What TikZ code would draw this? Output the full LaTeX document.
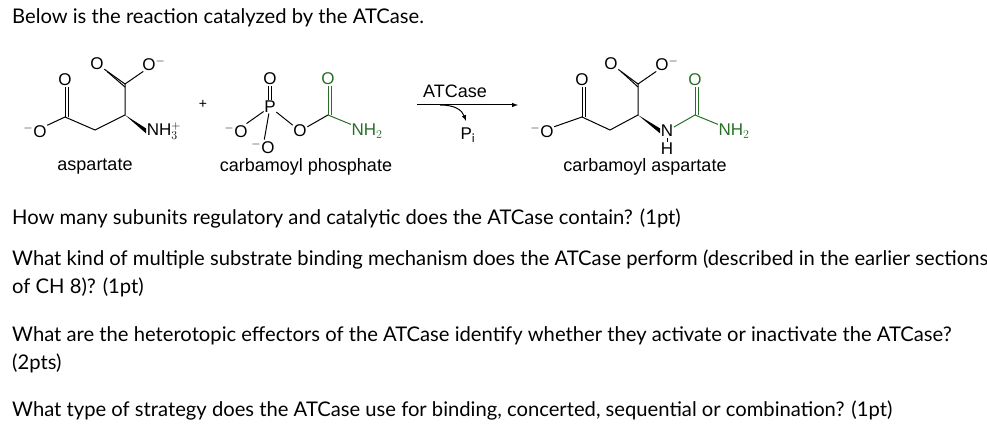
\documentclass[tikz,border=0pt]{standalone}
\usepackage{fontspec}
\setmainfont{Lato}
\newfontfamily\chemf{Liberation Sans}
\definecolor{cgreen}{RGB}{40,110,40}
\begin{document}
\begin{tikzpicture}[x=1pt,y=-1pt,
  txt/.style={anchor=base west,inner sep=0,font=\fontsize{20.2}{24}\selectfont},
  atm/.style={inner sep=0.5pt,font=\chemf\fontsize{17}{20}\selectfont},
  lab/.style={inner sep=0,font=\chemf\fontsize{18}{20}\selectfont},
  bd/.style={line width=1pt},
  gb/.style={bd,cgreen}]
\useasboundingbox (0,0) rectangle (987,441);
\node[txt] (t0) at (12,24) {Below is the reaction catalyzed by the ATCase.};
\node[txt] (q1) at (12,224) {How many subunits regulatory and catalytic does the ATCase contain? (1pt)};
\node[txt] (q2) at (12,265) {What kind of multiple substrate binding mechanism does the ATCase perform (described in the earlier sections};
\node[txt] (q2b) at (12,293) {of CH 8)? (1pt)};
\node[txt] (q3) at (12,341) {What are the heterotopic effectors of the ATCase identify whether they activate or inactivate the ATCase?};
\node[txt] (q3b) at (12,369) {(2pts)};
\node[txt] (q4) at (12,416) {What type of strategy does the ATCase use for binding, concerted, sequential or combination? (1pt)};
% aspartate
\node[atm] (aO1) at (35,131) {$^{-}$O};
\coordinate (aC1) at (65,117);
\node[atm] (aO2) at (65,80) {O};
\coordinate (aC2) at (95,130);
\coordinate (aCa) at (125,115);
\coordinate (aC3) at (125,84);
\node[atm] (aO3) at (97,64) {O};
\node[atm] (aO4) at (154,64) {O$^{-}$};
\node[atm] (aN) at (164,131) {NH$_3^{+}$};
\draw[bd] (aO1) -- (aC1) -- (aC2) -- (aCa) -- (aC3) -- (aO4);
\draw[bd] (aC1) -- (aO2); \draw[bd] ([xshift=3pt]aC1) -- ([xshift=3pt]aO2.south);
\draw[bd] (aC3) -- (aO3); \draw[bd] ([yshift=-3pt]aC3) -- ([xshift=3pt,yshift=-1pt]aO3.south east);
\fill (aCa) -- ([yshift=-2.5pt]aN.west) -- ([yshift=2.5pt]aN.west) -- cycle;
\node[lab] (la) at (95,167) {aspartate};
\node[inner sep=0,font=\chemf\fontsize{14}{16}\selectfont] (plus) at (203,104) {+};
% carbamoyl phosphate
\node[atm] (P) at (270,107) {P};
\node[atm] (pO1) at (270,79) {O};
\node[atm] (pO2) at (236,131) {$^{-}$O};
\node[atm] (pO3) at (263,147) {$^{-}$O};
\node[atm] (pO4) at (300,131) {O};
\coordinate (pC) at (328,115);
\node[atm,cgreen] (pO5) at (328,79) {O};
\node[atm,cgreen] (pN) at (367,131) {NH$_2$};
\draw[bd] ([xshift=-1.5pt]P.north) -- ([xshift=-1.5pt]pO1.south);
\draw[bd] ([xshift=1.5pt]P.north) -- ([xshift=1.5pt]pO1.south);
\draw[bd] (pO2) -- (P) -- (pO4) -- (pC);
\draw[bd] (P) -- (pO3);
\draw[gb] (pC) -- (pN);
\draw[gb] (pC) -- (pO5); \draw[gb] ([xshift=3pt]pC) -- ([xshift=3pt]pO5.south);
\node[lab] (lc) at (306,167) {carbamoyl phosphate};
% arrow
\coordinate (r1) at (417,105);
\coordinate (r2) at (518,105);
\draw[bd,-latex] (r1) -- (r2);
\node[lab] (atc) at (455,91) {ATCase};
\node[atm] (Pi) at (468,135) {P$_\mathrm{i}$};
\draw[bd,-latex] (440,105) .. controls (455,105) and (462,110) .. (466,121);
% carbamoyl aspartate
\node[atm] (bO1) at (542,131) {$^{-}$O};
\coordinate (bC1) at (582,117);
\node[atm] (bO2) at (582,80) {O};
\coordinate (bC2) at (610,130);
\coordinate (bCa) at (638,115);
\coordinate (bC3) at (638,84);
\node[atm] (bO3) at (611,64) {O};
\node[atm] (bO4) at (667,64) {O$^{-}$};
\node[atm] (bN) at (667,131) {N};
\node[atm] (bH) at (667,149) {H};
\coordinate (bC) at (695,115);
\node[atm,cgreen] (bO5) at (695,80) {O};
\node[atm,cgreen] (bN2) at (734,131) {NH$_2$};
\draw[bd] (bO1) -- (bC1) -- (bC2) -- (bCa) -- (bC3) -- (bO4);
\draw[bd] (bC1) -- (bO2); \draw[bd] ([xshift=3pt]bC1) -- ([xshift=3pt]bO2.south);
\draw[bd] (bC3) -- (bO3); \draw[bd] ([yshift=-3pt]bC3) -- ([xshift=3pt,yshift=-1pt]bO3.south east);
\fill (bCa) -- ([yshift=-2.5pt]bN.west) -- ([yshift=2.5pt]bN.west) -- cycle;
\draw[bd] (bN) -- (bH);
\draw[gb] (bN) -- (bC) -- (bN2);
\draw[gb] (bC) -- (bO5); \draw[gb] ([xshift=3pt]bC) -- ([xshift=3pt]bO5.south);
\node[lab] (lp) at (645,167) {carbamoyl aspartate};
\end{tikzpicture}
\end{document}
